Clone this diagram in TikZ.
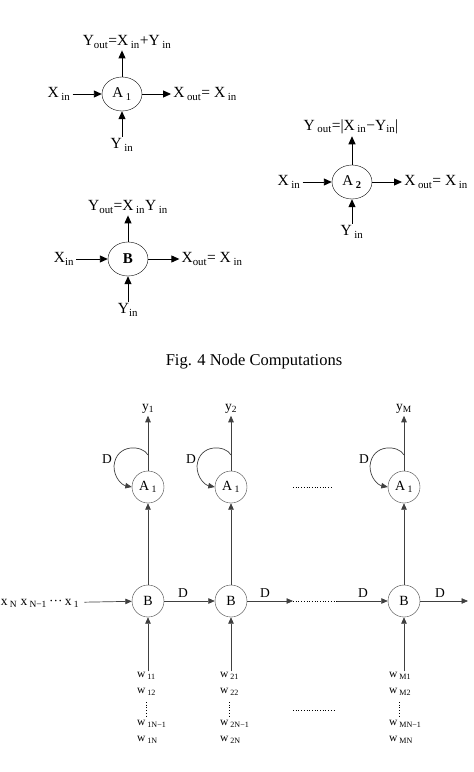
\documentclass[tikz,border=0pt]{standalone}
\usepackage{fontspec}
\setmainfont{Liberation Serif}
\usetikzlibrary{arrows.meta,shapes.geometric}
\newcommand{\ix}[1]{\textsubscript{#1}}
\begin{document}
\begin{tikzpicture}[x=1pt,y=-1pt,
  tl/.style={font=\fontsize{15.5}{18}\selectfont, inner sep=2pt},
  lbl/.style={font=\fontsize{13.5}{16}\selectfont, inner sep=2pt},
  wl/.style={font=\fontsize{11.5}{13}\selectfont, inner sep=1pt, anchor=west},
  cell/.style={draw, ellipse, minimum width=40pt, minimum height=34pt, inner sep=0pt, font=\fontsize{15}{18}\selectfont},
  unit/.style={draw=black!75, circle, minimum size=32pt, inner sep=0pt, font=\fontsize{14}{16}\selectfont},
  flow/.style={-{Triangle[length=8pt,width=7pt]}, line width=0.9pt},
  link/.style={-{Triangle[length=6.5pt,width=5.5pt]}, draw=black!75, line width=0.7pt},
  dots/.style={dotted, line width=0.7pt}]
\useasboundingbox (0,0) rectangle (474,772);
% Node A1
\node[cell] (p) at (122,94) {A\,\ix{1}};
\node[tl] (py) at (127,42) {Y\ix{out}=X\,\ix{in}+Y\,\ix{in}};
\node[tl] (px) at (59,94) {X\,\ix{in}};
\node[tl] (pxo) at (205,94) {X\,\ix{out}= X\,\ix{in}};
\node[tl] (pyi) at (122,145) {Y\,\ix{in}};
\draw[flow] (px) -- (p);
\draw[flow] (p) -- (pxo);
\draw[flow] (pyi) -- (p);
\draw[flow] (p) -- (p |- py.south);
% Node A2
\node[cell] (q) at (352,182) {A\,\ix{\bfseries 2}};
\node[tl] (qy) at (351,127) {Y\,\ix{out}=|X\,\ix{in}−Y\ix{in}|};
\node[tl] (qx) at (289,182) {X\,\ix{in}};
\node[tl] (qxo) at (436,182) {X\,\ix{out}= X\,\ix{in}};
\node[tl] (qyi) at (352,232) {Y\,\ix{in}};
\draw[flow] (qx) -- (q);
\draw[flow] (q) -- (qxo);
\draw[flow] (qyi) -- (q);
\draw[flow] (q) -- (q |- qy.south);
% Node B
\node[cell] (r) at (128,259) {\bfseries B};
\node[tl] (ry) at (128,207) {Y\ix{out}=X\,\ix{in}Y\,\ix{in}};
\node[tl] (rx) at (64,259) {X\ix{in}};
\node[tl] (rxo) at (212,259) {X\ix{out}= X\,\ix{in}};
\node[tl] (ryi) at (128,310) {Y\ix{in}};
\draw[flow] (rx) -- (r);
\draw[flow] (r) -- (rxo);
\draw[flow] (ryi) -- (r);
\draw[flow] (r) -- (ry);
% Caption
\node[font=\fontsize{16.5}{18}\selectfont] (cap) at (254,362) {Fig. 4 Node Computations};
% Network cells
\node[unit] (a1) at (148,487) {A\,\ix{1}};
\node[unit] (a2) at (231,487) {A\,\ix{1}};
\node[unit] (aM) at (404,487) {A\,\ix{1}};
\node[unit] (b1) at (148,601) {B};
\node[unit] (b2) at (231,601) {B};
\node[unit] (bM) at (404,601) {B};
% Outputs
\node[lbl] (y1) at (148,409) {y\ix{1}};
\node[lbl] (y2) at (231,409) {y\ix{2}};
\node[lbl] (yM) at (404,409) {y\ix{M}};
\draw[link] (a1) -- (y1);
\draw[link] (a2) -- (y2);
\draw[link] (aM) -- (yM);
\draw[link] (b1) -- (a1);
\draw[link] (b2) -- (a2);
\draw[link] (bM) -- (aM);
% Delay loops
\coordinate (l1) at (148,455);
\coordinate (l2) at (231,455);
\coordinate (lM) at (404,455);
\draw[link] (l1) .. controls (143,445) and (116,443) .. (114,466) .. controls (114,478) and (122,485) .. (a1.west);
\draw[link] (l2) .. controls (226,445) and (199,443) .. (197,466) .. controls (197,478) and (205,485) .. (a2.west);
\draw[link] (lM) .. controls (399,445) and (372,443) .. (370,466) .. controls (370,478) and (378,485) .. (aM.west);
\node[lbl] (d1) at (107,459) {D};
\node[lbl] (d2) at (191,459) {D};
\node[lbl] (dM) at (364,459) {D};
\coordinate (h1) at (293,487);
\coordinate (h2) at (333,487);
\draw[dots] (h1) -- (h2);
% Input row
\node[lbl, inner xsep=5pt] (xs) at (40,603) {x\,\ix{N} x\,\ix{N−1}\,···\,x\,\ix{1}};
\coordinate (g1) at (293,601);
\coordinate (g2) at (337,601);
\coordinate (gout) at (468,601);
\draw[link] (xs) -- (b1);
\draw[link] (b1) -- (b2);
\draw[link] (b2) -- (g1);
\draw[dots] (g1) -- (g2);
\draw[link] (g2) -- (bM);
\draw[link] (bM) -- (gout);
\node[lbl] (e1) at (183,593) {D};
\node[lbl] (e2) at (265,593) {D};
\node[lbl] (e3) at (363,593) {D};
\node[lbl] (e4) at (440,593) {D};
% Weights
\node[wl] (w11) at (136,676) {w\,\ix{11}};
\node[wl] (w12) at (136,692) {w\,\ix{12}};
\node[wl] (w1n) at (136,724) {w\,\ix{1N−1}};
\node[wl] (w1N) at (136,740) {w\,\ix{1N}};
\node[wl] (w21) at (219,676) {w\,\ix{21}};
\node[wl] (w22) at (219,692) {w\,\ix{22}};
\node[wl] (w2n) at (219,724) {w\,\ix{2N−1}};
\node[wl] (w2N) at (219,740) {w\,\ix{2N}};
\node[wl] (wM1) at (388,676) {w\,\ix{M1}};
\node[wl] (wM2) at (388,692) {w\,\ix{M2}};
\node[wl] (wMn) at (388,724) {w\,\ix{MN−1}};
\node[wl] (wMN) at (388,740) {w\,\ix{MN}};
\draw[link] (b1 |- w11.north) -- (b1);
\draw[link] (b2 |- w21.north) -- (b2);
\draw[link] (bM |- wM1.north) -- (bM);
\draw[dots] (146,702) -- (146,716);
\draw[dots] (229,702) -- (229,716);
\draw[dots] (399,702) -- (399,716);
\coordinate (k1) at (293,710);
\coordinate (k2) at (335,710);
\draw[dots] (k1) -- (k2);
\end{tikzpicture}
\end{document}
